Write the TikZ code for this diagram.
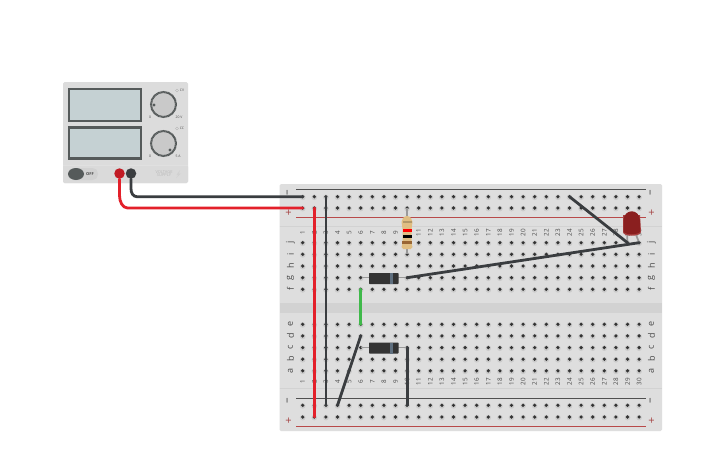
\documentclass[tikz,border=0pt]{standalone}
\usepackage{fontspec}
\setmainfont{Open Sans}
\definecolor{boardc}{HTML}{DEDEDE}
\definecolor{channelc}{HTML}{D2D2D2}
\definecolor{seamc}{HTML}{D2D2D2}
\definecolor{holec}{HTML}{333333}
\definecolor{haloc}{HTML}{CBCBCB}
\definecolor{labelc}{HTML}{4A4A4A}
\definecolor{railred}{HTML}{B84A4A}
\definecolor{railblack}{HTML}{505050}
\definecolor{wirered}{HTML}{E3202A}
\definecolor{wireblack}{HTML}{3A3D40}
\definecolor{wiregreen}{HTML}{3FB94A}
\definecolor{psuc}{HTML}{DCDCDC}
\definecolor{psulow}{HTML}{DADADA}
\definecolor{screenc}{HTML}{C5D1D3}
\definecolor{screenb}{HTML}{555A5A}
\definecolor{knobc}{HTML}{C9C9C9}
\definecolor{ledc}{HTML}{8A1F1F}
\definecolor{ledd}{HTML}{A84040}
\definecolor{legc}{HTML}{9A9A9A}
\definecolor{bodyc}{HTML}{E0BE82}
\definecolor{diodec}{HTML}{333333}
\definecolor{bandc}{HTML}{5F6F7F}
\tikzset{
  wire/.style={line width=2.8pt,line cap=round,line join=round},
  leadw/.style={draw=legc,line width=1.5pt},
  collabel/.style={rotate=90,font=\fontsize{6.3}{7}\selectfont,text=labelc,inner sep=0pt},
  rowlabel/.style={rotate=90,font=\fontsize{9}{10}\selectfont,text=labelc,inner sep=0pt},
  signlabel/.style={font=\fontsize{11}{12}\selectfont,inner sep=0pt},
  dial/.style={circle,draw=screenb,fill=knobc,line width=2pt,dash pattern=on 1.2pt off .4pt,minimum size=25pt,inner sep=0pt},
  tiny/.style={font=\fontsize{3.4}{4}\selectfont,text=labelc,inner sep=0pt},
  faint/.style={font=\fontsize{4}{4.2}\selectfont,text=black!28,inner sep=0pt,align=center}
}
\begin{document}
\begin{tikzpicture}[x=1pt,y=-1pt]
\useasboundingbox (0,0) rectangle (725,453);
\fill[white] (0,0) rectangle (725,453);
% power supply
\fill[psuc,rounded corners=1.5pt] (63,82) rectangle (188,183);
\fill[psulow,rounded corners=1.5pt] (63,165) rectangle (188,183);
\draw[black!12,line width=.4pt] (63,165) -- (188,165);
\draw[screenb,fill=screenc,line width=2.8pt] (69,89) rectangle (141,121);
\draw[screenb,fill=screenc,line width=2.8pt] (69,127.5) rectangle (141,158.5);
\node[dial] (knobv) at (163.5,104.5) {};
\node[dial] (knoba) at (163.5,143.5) {};
\fill[screenb] (154,105) circle (1.6);
\fill[screenb] (170,150) circle (1.6);
\node[tiny] (lz1) at (150,117.5) {0};
\node[tiny] (lv) at (179,117.5) {20 V};
\node[tiny] (lz2) at (150,156) {0};
\node[tiny] (la) at (178,156) {5 A};
\draw[black!35,line width=.3pt] (177,90.5) circle (1.5);
\node[tiny] (cv) at (182,90.5) {CV};
\draw[black!35,line width=.3pt] (177,128.5) circle (1.5);
\node[tiny] (cc) at (182,128.5) {CC};
\fill[black!18,rounded corners=5.5pt] (68,168) rectangle (98,180);
\fill[screenb] (76,174) ellipse (8 and 6);
\node[tiny,font=\fontsize{4}{4.5}\selectfont\bfseries] (off) at (90,174) {OFF};
\node[faint] (vs) at (164,173.5) {VOLTAGE\\[-1pt]SUPPLY};
\fill[black!18] (180,170) -- (176.5,175) -- (178.5,175) -- (176,178) -- (181,173.5) -- (179,173.5) -- cycle;
\node[circle,fill=wireblack,minimum size=10.5pt,inner sep=0pt] (termb) at (131,173.5) {};
\node[circle,fill=wirered!85!black,minimum size=10.5pt,inner sep=0pt] (termr) at (119.5,173.5) {};
% breadboard
\fill[boardc,rounded corners=1.5pt] (279.5,184) rectangle (662,431);
\fill[channelc] (279.5,303) rectangle (662,313);
\draw[seamc,line width=.5pt] (279.5,226) -- (662,226);
\draw[seamc,line width=.5pt] (279.5,388) -- (662,388);
% rails
\draw[railblack,line width=1pt] (296,189) -- (646,189);
\draw[railred,line width=1pt] (296,217.5) -- (646,217.5);
\draw[railblack,line width=1pt] (296,398) -- (646,398);
\draw[railred,line width=1pt] (296,426) -- (646,426);
\node[signlabel,rotate=90,text=labelc] (s1) at (288.5,192.5) {–};
\node[signlabel,text=railred!90!black] (s2) at (288.5,213.5) {+};
\node[signlabel,rotate=90,text=labelc] (s3) at (651.5,192.5) {–};
\node[signlabel,text=railred!90!black] (s4) at (651.5,213.5) {+};
\node[signlabel,rotate=90,text=labelc] (s5) at (288.5,401) {–};
\node[signlabel,text=railred!90!black] (s6) at (288.5,421) {+};
\node[signlabel,rotate=90,text=labelc] (s7) at (651.5,401) {–};
\node[signlabel,text=railred!90!black] (s8) at (651.5,421) {+};
% holes and named coordinates
\foreach \n/\y in {T/196.7,P/208,j/242.7,i/254.3,h/266,g/277.7,f/289.3,e/324.3,d/335.9,c/347.6,b/359.2,a/370.8,U/405.3,Q/417}{
  \foreach \c in {1,...,30}{
    \pgfmathsetmacro{\xx}{302.7+11.6*(\c-1)}
    \coordinate (\n\c) at (\xx,\y);
    \fill[haloc] (\xx,\y+.6) circle (2.8);
    \fill[holec] (\xx,\y) circle (1.8);
  }
}
% labels
\foreach \c in {1,...,30}{
  \pgfmathsetmacro{\xx}{302.7+11.6*(\c-1)}
  \node[collabel] (lt\c) at (\xx,232.5) {\c};
  \node[collabel] (lb\c) at (\xx,381.5) {\c};
}
\foreach \n/\y in {j/242.7,i/254.3,h/266,g/277.7,f/289.3,e/324.3,d/335.9,c/347.6,b/359.2,a/370.8}{
  \node[rowlabel] (ll\n) at (290.5,\y) {\n};
  \node[rowlabel] (lr\n) at (651.5,\y) {\n};
}
% resistor
\draw[leadw] (P10) -- (i10);
\fill[bodyc] (407,216) .. controls (403,216) and (402,220) .. (401.5,222) .. controls (402.5,225) and (402.5,226) .. (402.5,229)
  -- (402.5,241) .. controls (402.5,244) and (402,246) .. (401.5,247) .. controls (402,250) and (404,249) .. (407,249)
  .. controls (410,249) and (412,250) .. (412.5,247) .. controls (412,246) and (411.5,244) .. (411.5,241) -- (411.5,229)
  .. controls (411.5,226) and (411.5,225) .. (412.5,222) .. controls (412,220) and (411,216) .. (407,216) -- cycle;
\fill[bodyc!80!black] (402.5,221) rectangle (411.5,222.5);
\fill[red] (402.5,228.5) rectangle (411.5,232);
\fill[black] (402.5,234.5) rectangle (411.5,238);
\fill[brown!80!black] (402,240.5) rectangle (412,244);
% diodes
\draw[leadw] (g6) ++(1,0) -- (g10);
\fill[diodec,rounded corners=.6pt] (369,273) rectangle (398.5,284);
\fill[bandc] (390,273) rectangle (392.5,284);
\draw[leadw] (c6) -- (c10);
\fill[diodec,rounded corners=.6pt] (369,342.5) rectangle (398.5,353.5);
\fill[bandc] (390,342.5) rectangle (392.5,353.5);
% LED
\draw[legc,line width=1.7pt] (627,232) -- (j29);
\draw[legc,line width=1.7pt] (635,232) -- (j30);
\fill[ledd] (623,215) -- (623,232) .. controls (623,237) and (640,237) .. (641,232) -- (640,215) -- cycle;
\fill[ledc] (623.5,221) .. controls (623.5,208) and (640,208) .. (640,221) -- (640,232) .. controls (637,235) and (626,235) .. (623.5,232) -- cycle;
% wires
\draw[wire,wireblack] (termb) -- ++(0,15) .. controls +(0,4.5) and +(-4,0) .. ++(6,8.2) -- (T1);
\draw[wire,wirered] (termr) -- ++(0,22) .. controls +(0,6) and +(-5,0) .. ++(8,12.5) -- (P1);
\draw[wire,wirered] (P2) -- (Q2);
\draw[wire,wireblack] (T3) -- (U3);
\draw[wire,wiregreen] (f6) -- (e6);
\draw[wire,wireblack] (d6) -- (U4);
\draw[wire,wireblack] (c10) -- (U10);
\draw[wire,wireblack] (g10) -- (j30);
\draw[wire,wireblack] (T24) -- (j29);
\end{tikzpicture}
\end{document}
